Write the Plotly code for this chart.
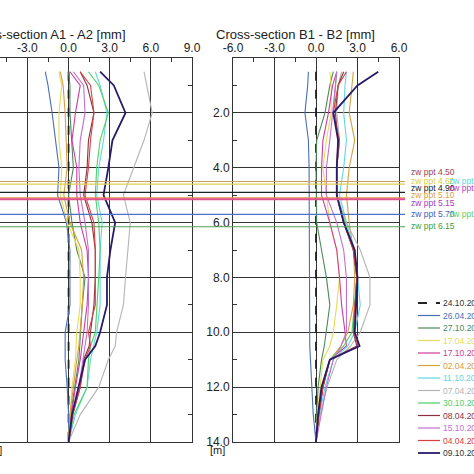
import plotly.graph_objects as go

depths = [0.5, 1, 2, 3, 4, 5, 6, 7, 8, 9, 10, 10.5, 11, 12, 13, 14]

dates = ["24.10.2014", "26.04.2015", "27.10.2015", "17.04.2016", "17.10.2016", "02.04.2017",
         "11.10.2017", "07.04.2018", "30.10.2018", "08.04.2019", "15.10.2019", "04.04.2020", "09.10.2020"]
colors = ["#222222", "#4a6fb5", "#4a8a5a", "#e6dc5a", "#d03c9c", "#d4a040",
          "#5ed8e0", "#b4b4b4", "#50d060", "#8a3040", "#c070d0", "#d84040", "#2a1a6a"]

zero = [0]*16
# Cross-section A1 - A2 [mm]
A = [
    zero,
    [-1.7,-1.5,-1.2,-0.95,-0.7,-0.8,-0.15,0.1,0.1,0.1,-0.25,-0.25,-0.25,-0.1,0,0],
    [0,0.1,0.1,0.25,0.35,0,0.25,0.6,1.2,1.0,0.85,0.8,0.75,0.45,0.15,0],
    [-0.7,-0.5,-0.7,-0.7,-0.5,-0.6,-0.1,0.75,0.85,0.85,0.6,0.55,0.5,0.25,0.1,0],
    [0.1,0.85,0.5,0.25,0.6,0.6,0.85,1.35,1.45,1.35,1.1,1.0,0.85,0.5,0.2,0],
    [-0.6,-0.4,-0.25,-0.2,-0.1,-0.35,0.1,0.95,1.1,1.0,0.85,0.75,0.6,0.35,0.1,0],
    [1.95,2.3,2.8,2.55,2.2,2.05,2.45,2.3,2.3,2.3,2.05,1.8,1.6,1.35,0.5,0],
    [5.5,5.7,6.1,5.5,4.75,4.0,4.5,4.3,4.15,4.0,3.5,3.4,2.9,2.2,0.85,0],
    [1.45,2.2,2.9,2.3,2.05,1.95,2.2,2.3,2.2,2.05,1.95,1.6,1.45,1.35,0.4,0],
    [0.85,1.35,1.85,1.45,1.35,1.1,1.7,1.95,1.95,1.85,1.6,1.5,1.1,0.85,0.3,0],
    [0.35,1.1,1.2,0.85,0.75,0.85,1.2,1.45,1.45,1.45,1.35,1.2,1.1,0.75,0.25,0],
    [0.85,1.6,1.85,1.6,1.45,1.2,1.85,1.95,1.95,1.95,1.45,1.6,1.2,0.85,0.3,0],
    [2.3,3.3,4.15,3.2,2.9,2.55,3.4,3.05,2.8,2.8,2.3,1.95,1.2,0.75,0.25,0],
]
# Cross-section B1 - B2 [mm]
B = [
    zero,
    [-0.55,-0.6,-0.8,-0.55,-0.5,-0.5,-0.5,-0.5,-0.5,-0.5,-0.5,-0.45,-0.4,-0.3,-0.2,0],
    [1.25,1.0,0.65,0.05,0,0,0.05,0.4,0.75,1.0,0.75,0.6,0.4,0.15,0.05,0],
    [1.0,1.1,1.1,0.75,0.5,0.75,1.0,1.5,1.7,1.5,1.25,1.0,0.5,0.3,0.1,0],
    [1.5,1.2,0.9,0.5,0.4,0.4,1.0,1.5,1.7,1.85,2.1,2.2,1.0,0.5,0.2,0],
    [2.7,2.6,2.4,2.8,2.4,2.2,2.4,2.7,2.8,2.7,2.3,1.8,1.0,0.4,0.15,0],
    [2.2,2.1,2.0,2.2,2.0,1.7,2.2,2.8,3.0,3.2,2.8,2.3,1.25,0.65,0.25,0],
    [1.85,1.6,1.5,1.7,1.5,1.5,2.2,3.2,3.9,3.9,3.2,2.5,1.5,0.8,0.3,0],
    [1.5,1.4,1.25,1.7,1.5,1.5,2.1,2.7,2.95,2.8,2.6,2.0,1.0,0.5,0.2,0],
    [2.0,1.6,1.4,1.6,1.5,1.5,2.0,2.7,2.95,2.8,2.7,2.95,1.0,0.5,0.2,0],
    [1.5,1.4,1.25,1.0,0.75,0.75,1.5,2.0,2.2,2.2,2.2,1.8,1.25,0.75,0.4,0],
    [2.2,1.6,1.25,1.7,1.5,1.5,2.0,2.7,2.95,2.8,2.7,3.05,1.0,0.5,0.2,0],
    [4.5,3.0,1.25,1.6,1.5,1.5,2.0,2.8,3.0,2.9,2.8,3.15,1.0,0.4,0.15,0],
]

water_levels = [4.50, 4.60, 4.90, 5.10, 5.15, 5.70, 6.15]
water_line_colors = ["#c8a060", "#e0d050", "#222222", "#e09040", "#e05090", "#5070d0", "#50a050"]
water_text_colors = ["#a04050", "#e0d040", "#222222", "#e0a040", "#a040c0", "#4060c0", "#40a040"]
water_label_px = [172, 181, 188, 195, 203, 214, 226]
extra_labels = [("zw ppt", "#5ed8e0", 181), ("zw ppt", "#c040c0", 188), ("zw ppt", "#60d060", 214)]

W = H = 474
fig = go.Figure()
for i in range(len(dates)):
    dash = "dash" if i == 0 else "solid"
    width = 1.8 if i in (0, 12) else 1.1
    fig.add_trace(go.Scatter(x=A[i], y=depths, mode="lines", xaxis="x", yaxis="y",
                             line=dict(color=colors[i], width=width, dash=dash), showlegend=False))
    fig.add_trace(go.Scatter(x=B[i], y=depths, mode="lines", xaxis="x2", yaxis="y2",
                             line=dict(color=colors[i], width=width, dash=dash), showlegend=False))

shapes, ann = [], []
for d, c in zip(water_levels, water_line_colors):
    shapes.append(dict(type="line", xref="paper", yref="y", x0=0, x1=405/W, y0=d, y1=d,
                       line=dict(color=c, width=2.2 if d == 5.15 else 1.1)))
for d, c, py in zip(water_levels, water_text_colors, water_label_px):
    ann.append(dict(text=f"zw ppt {d:.2f}", x=409/W, y=1-py/H, xref="paper", yref="paper",
                    xanchor="left", yanchor="middle", showarrow=False, font=dict(size=8.5, color=c)))
for t, c, py in extra_labels:
    ann.append(dict(text=t, x=447/W, y=1-py/H, xref="paper", yref="paper",
                    xanchor="left", yanchor="middle", showarrow=False, font=dict(size=8.5, color=c)))
for i, (dt, c) in enumerate(zip(dates, colors)):
    py = 303 + 12.5*i
    shapes.append(dict(type="line", xref="paper", yref="paper", x0=418/W, x1=440/W, y0=1-py/H, y1=1-py/H,
                       line=dict(color=c, width=1.8 if i in (0, 12) else 1.2, dash="dash" if i == 0 else "solid")))
    ann.append(dict(text=dt, x=441/W, y=1-py/H, xref="paper", yref="paper", xanchor="left", yanchor="middle",
                    showarrow=False, font=dict(size=8.5, color="#333" if i in (0, 12) else c)))

ann.append(dict(text="Cross-section A1 - A2 [mm]", x=128/W, y=1-25/H, xref="paper", yref="paper",
                xanchor="right", showarrow=False, font=dict(size=13, color="#222")))
ann.append(dict(text="Cross-section B1 - B2 [mm]", x=214/W, y=1-25/H, xref="paper", yref="paper",
                xanchor="left", showarrow=False, font=dict(size=13, color="#222")))
ann.append(dict(text="[m]", x=217/W, y=1-458/H, xref="paper", yref="paper",
                showarrow=False, font=dict(size=11, color="#222")))
ann.append(dict(text="[m]", x=4/W, y=1-458/H, xref="paper", yref="paper", xanchor="right",
                showarrow=False, font=dict(size=11, color="#222")))

grid = dict(showgrid=True, gridcolor="#333", gridwidth=1, zeroline=False, showline=True, automargin=False,
            linecolor="#333", mirror=True, ticks="inside", ticklen=4, tickcolor="#333",
            minor=dict(dtick=1.5, ticks="inside", ticklen=4, tickcolor="#333", showgrid=False))
ymin = dict(dtick=1, ticks="inside", ticklen=4, tickcolor="#333", showgrid=False)
ydom = [1-442/H, 1-58/H]
fig.update_layout(
    width=W, height=H, margin=dict(l=0, r=0, t=0, b=0, pad=0, autoexpand=False),
    plot_bgcolor="white", paper_bgcolor="white",
    font=dict(family="Liberation Sans, Arial", size=12, color="#222"),
    xaxis=dict(domain=[0, 192/W], range=[-5, 9], side="top", tickvals=[-3, 0, 3, 6, 9],
               ticktext=["-3.0", "0.0", "3.0", "6.0", "9.0"], anchor="y", **grid),
    xaxis2=dict(domain=[233/W, 399/W], range=[-6, 6], side="top", tickvals=[-6, -3, 0, 3, 6],
                ticktext=["-6.0", "-3.0", "0.0", "3.0", "6.0"], anchor="y2", **grid),
    yaxis=dict(domain=ydom, range=[14, 0], side="right", tickvals=list(range(2, 15, 2)),
               showticklabels=False, anchor="x", **{**grid, "minor": ymin}),
    yaxis2=dict(domain=ydom, range=[14, 0], tickvals=list(range(2, 15, 2)),
                ticktext=[f"{v:.1f}" for v in range(2, 15, 2)], anchor="x2", **{**grid, "minor": ymin}),
    shapes=shapes, annotations=ann,
)
fig.write_html("out.html", config={"displayModeBar": False},
               post_script="document.body.style.margin='0';document.body.style.overflow='hidden';")
